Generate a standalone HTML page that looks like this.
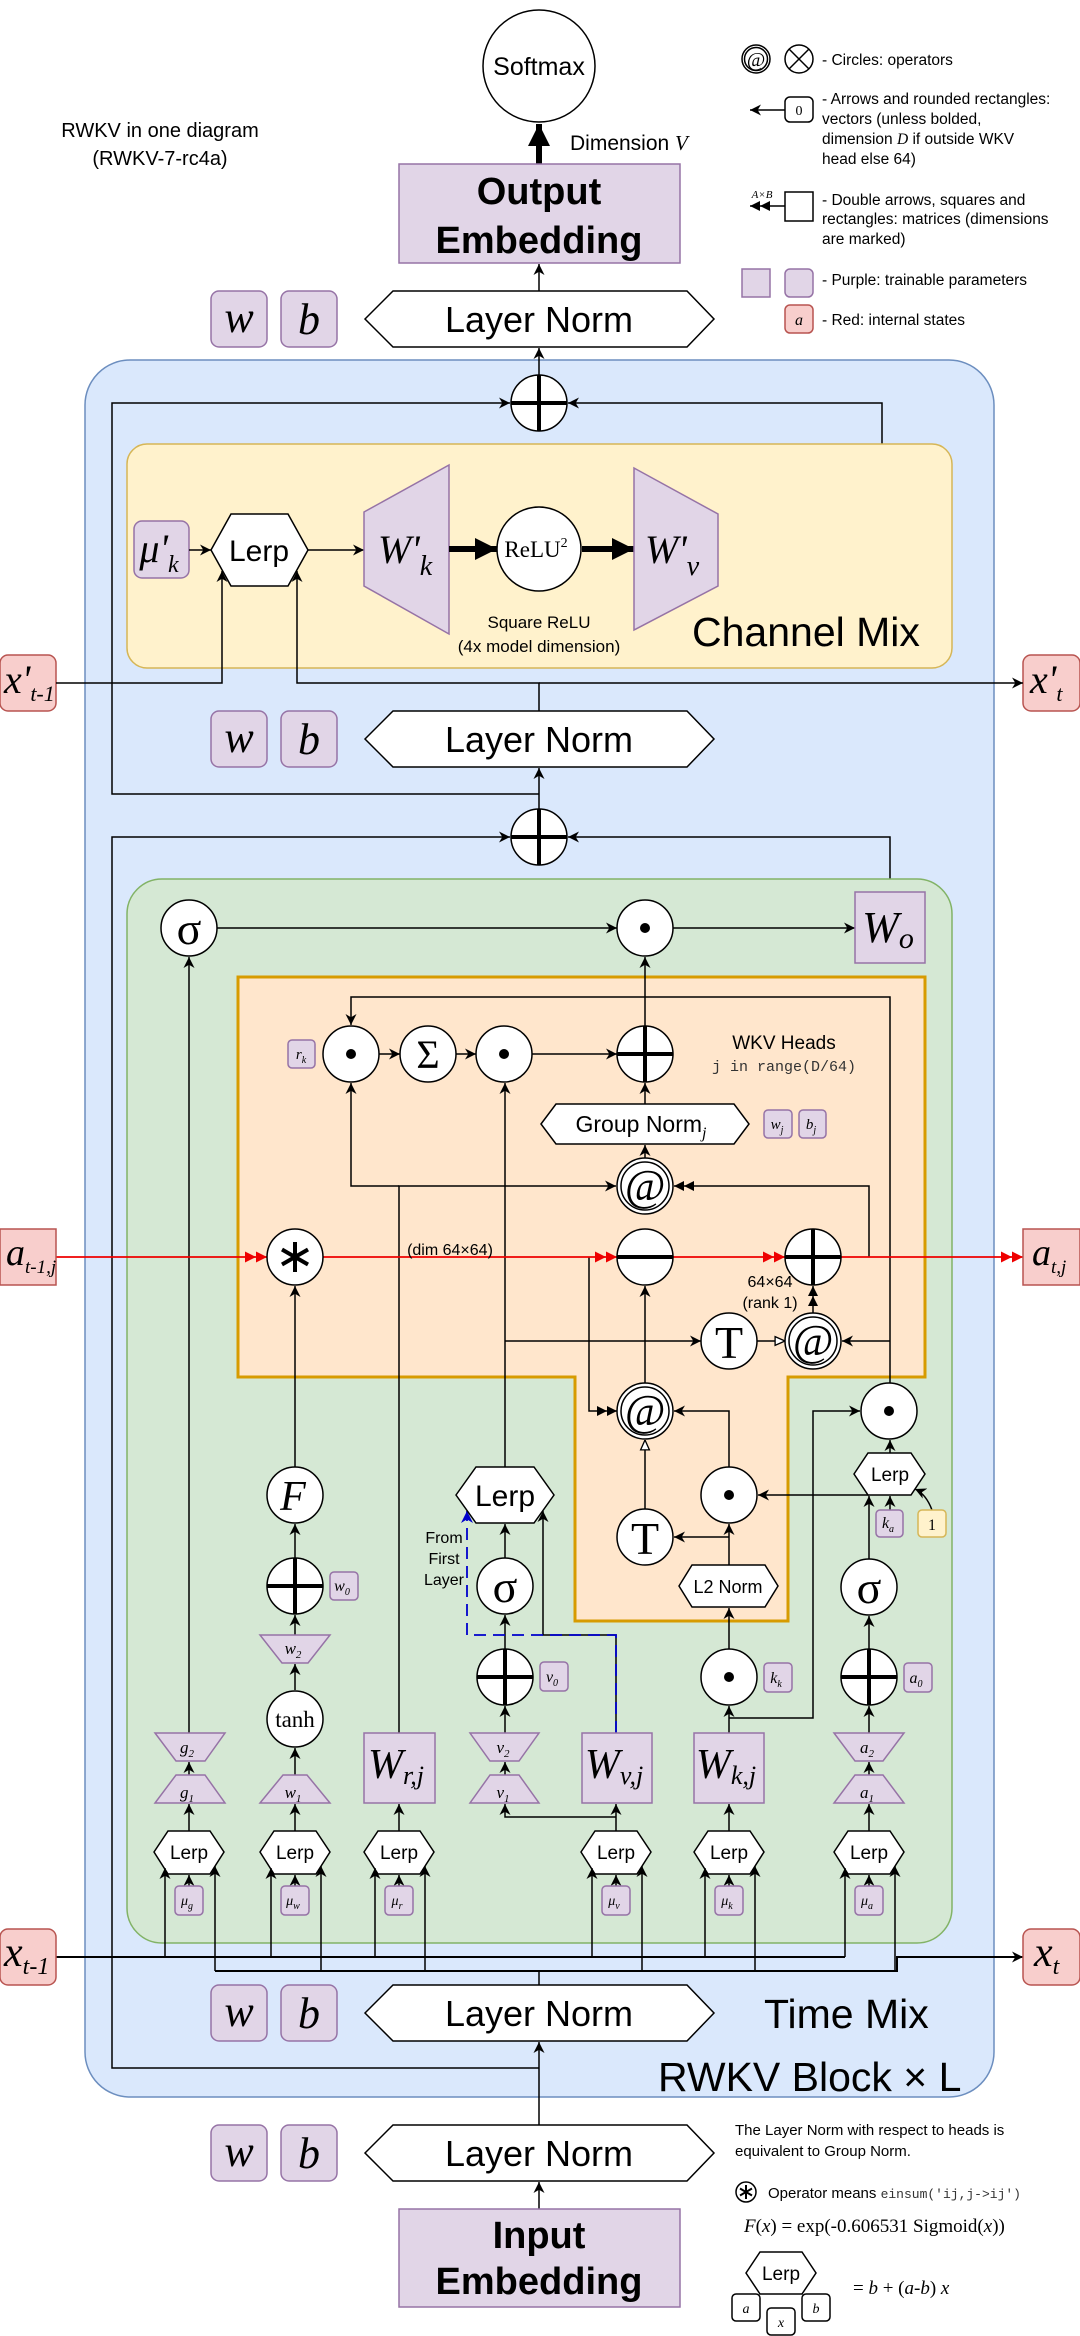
<!DOCTYPE html>
<html><head><meta charset="utf-8"><style>
html,body{margin:0;padding:0;background:#fff}
svg{display:block}
.s{font-family:"Liberation Sans",sans-serif}
.m{font-family:"Liberation Serif",serif;font-style:italic}
.r{font-family:"Liberation Serif",serif}
.c{fill:#fff;stroke:#000;stroke-width:1.5}
.p{fill:#e1d5e7;stroke:#9673a6;stroke-width:1.5}
.rd{fill:#f8cecc;stroke:#b85450;stroke-width:1.5}
.l{fill:none;stroke:#000;stroke-width:1.5}
.x{stroke:#000;stroke-width:4}
</style></head><body>
<svg width="1080" height="2336" viewBox="0 0 1080 2336" xmlns="http://www.w3.org/2000/svg">
<defs>
<marker id="a" viewBox="0 0 10 10" refX="10" refY="5" markerWidth="11" markerHeight="11" markerUnits="userSpaceOnUse" orient="auto"><path d="M0,0L10,5L0,10L3,5z"/></marker>
<marker id="d" viewBox="0 0 20 10" refX="20" refY="5" markerWidth="20" markerHeight="10" markerUnits="userSpaceOnUse" orient="auto"><path d="M0,0L10,5L0,10zM10,0L20,5L10,10z"/></marker>
<marker id="rd" viewBox="0 0 20 10" refX="20" refY="5" markerWidth="22" markerHeight="11" markerUnits="userSpaceOnUse" orient="auto"><path d="M0,0L10,5L0,10zM10,0L20,5L10,10z" fill="#e00"/></marker>
<marker id="h" viewBox="0 0 10 10" refX="10" refY="5" markerWidth="11" markerHeight="11" markerUnits="userSpaceOnUse" orient="auto"><path d="M1,1L10,5L1,9z" fill="#fff" stroke="#000" stroke-width="1.2"/></marker>
<marker id="t" viewBox="0 0 10 10" refX="10" refY="5" markerWidth="22" markerHeight="22" markerUnits="userSpaceOnUse" orient="auto"><path d="M0,0L10,5L0,10z"/></marker>
<marker id="b" viewBox="0 0 10 10" refX="10" refY="5" markerWidth="12" markerHeight="12" markerUnits="userSpaceOnUse" orient="auto"><path d="M0,0L10,5L0,10L3,5z" fill="#00c"/></marker>
</defs>

<!-- Top -->
<circle class="c" cx="539" cy="66" r="56"/>
<text class="s" x="539" y="75" font-size="25" text-anchor="middle">Softmax</text>
<line x1="539" y1="164" x2="539" y2="124" stroke="#000" stroke-width="6" marker-end="url(#t)"/>
<text class="s" x="570" y="150" font-size="21">Dimension <tspan class="m">V</tspan></text>
<rect class="p" x="399" y="164" width="281" height="99"/>
<text class="s" x="539" y="204" font-size="38" font-weight="bold" text-anchor="middle">Output</text>
<text class="s" x="539" y="253" font-size="38" font-weight="bold" text-anchor="middle">Embedding</text>
<text class="s" x="160" y="137" font-size="20" text-anchor="middle">RWKV in one diagram</text>
<text class="s" x="160" y="165" font-size="20" text-anchor="middle">(RWKV-7-rc4a)</text>

<!-- Legend -->
<circle class="c" cx="756" cy="59" r="14"/><circle class="c" cx="756" cy="59" r="11.5"/>
<text class="m" x="756" y="66" font-size="20" text-anchor="middle">@</text>
<circle class="c" cx="799" cy="59" r="14"/>
<line class="l" x1="789" y1="49" x2="809" y2="69"/><line class="l" x1="809" y1="49" x2="789" y2="69"/>
<g class="s" font-size="15.5">
<text x="822" y="65">- Circles: operators</text>
<text x="822" y="104">- Arrows and rounded rectangles:</text>
<text x="822" y="124">vectors (unless bolded,</text>
<text x="822" y="144">dimension <tspan class="m">D</tspan> if outside WKV</text>
<text x="822" y="164">head else 64)</text>
<text x="822" y="205">- Double arrows, squares and</text>
<text x="822" y="224">rectangles: matrices (dimensions</text>
<text x="822" y="244">are marked)</text>
<text x="822" y="285">- Purple: trainable parameters</text>
<text x="822" y="325">- Red: internal states</text>
</g>
<rect x="785" y="97" width="28" height="25" rx="5" fill="#fff" stroke="#000" stroke-width="1.5"/>
<text class="r" x="799" y="115" font-size="14" text-anchor="middle">0</text>
<line class="l" x1="785" y1="110" x2="750" y2="110" marker-end="url(#a)"/>
<text class="m" x="762" y="198" font-size="11" text-anchor="middle">A×B</text>
<rect x="785" y="192" width="28" height="29" fill="#fff" stroke="#000" stroke-width="1.5"/>
<line class="l" x1="785" y1="206" x2="750" y2="206" marker-end="url(#d)"/>
<rect class="p" x="742" y="269" width="28" height="28"/>
<rect class="p" x="785" y="269" width="28" height="28" rx="5"/>
<rect class="rd" x="785" y="305" width="28" height="28" rx="5"/>
<text class="m" x="799" y="325" font-size="16" text-anchor="middle">a</text>

<!-- Top LN -->
<rect class="p" x="211" y="291" width="56" height="56" rx="8"/><text class="m" x="239" y="332" font-size="44" text-anchor="middle">w</text>
<rect class="p" x="281" y="291" width="56" height="56" rx="8"/><text class="m" x="309" y="334" font-size="44" text-anchor="middle">b</text>
<polygon class="c" points="365,319 393,291 687,291 714,319 687,347 393,347"/>
<text class="s" x="539" y="332" font-size="36" text-anchor="middle">Layer Norm</text>
<line class="l" x1="539" y1="291" x2="539" y2="264" marker-end="url(#a)"/>

<!-- Blue block -->
<rect x="85" y="360" width="909" height="1737" rx="45" fill="#dae8fc" stroke="#6c8ebf" stroke-width="1.5"/>
<line class="l" x1="539" y1="375" x2="539" y2="348" marker-end="url(#a)"/>
<path class="l" d="M539,794H112V403H510" marker-end="url(#a)"/>
<path class="l" d="M718,563H882V403H568" marker-end="url(#a)"/>
<circle class="c" cx="539" cy="403" r="28"/>
<line class="x" x1="511" y1="403" x2="567" y2="403"/><line class="x" x1="539" y1="375" x2="539" y2="431"/>

<!-- Channel mix -->
<rect x="127" y="444" width="825" height="224" rx="20" fill="#fff2cc" stroke="#d6b656" stroke-width="1.5"/>
<rect class="p" x="134" y="521" width="55" height="57" rx="8"/>
<text class="m" x="159" y="562" font-size="40" text-anchor="middle">μ'<tspan font-size="24" dy="10">k</tspan></text>
<polygon class="c" points="211,550 231,514 288,514 308,550 288,586 231,586"/>
<text class="s" x="259" y="561" font-size="30" text-anchor="middle">Lerp</text>
<line class="l" x1="189" y1="550" x2="211" y2="550" marker-end="url(#a)"/>
<line class="l" x1="308" y1="550" x2="364" y2="550" marker-end="url(#a)"/>
<polygon class="p" points="364,512 449,465 449,634 364,586"/>
<text class="m" x="405" y="563" font-size="40" text-anchor="middle">W'<tspan font-size="28" dy="12">k</tspan></text>
<line x1="449" y1="549" x2="497" y2="549" stroke="#000" stroke-width="6" marker-end="url(#t)"/>
<circle class="c" cx="539" cy="549" r="42"/>
<text class="r" x="536" y="557" font-size="23" text-anchor="middle">ReLU<tspan font-size="14" dy="-10">2</tspan></text>
<line x1="582" y1="549" x2="634" y2="549" stroke="#000" stroke-width="6" marker-end="url(#t)"/>
<polygon class="p" points="634,468 718,514 718,586 634,630"/>
<text class="m" x="672" y="563" font-size="40" text-anchor="middle">W'<tspan font-size="28" dy="12">v</tspan></text>
<text class="s" x="539" y="628" font-size="17" text-anchor="middle">Square ReLU</text>
<text class="s" x="539" y="652" font-size="17" text-anchor="middle">(4x model dimension)</text>
<text class="s" x="692" y="646" font-size="41">Channel Mix</text>

<rect class="rd" x="0" y="655" width="56" height="56" rx="8"/>
<text class="m" x="4" y="693" font-size="40">x'<tspan font-size="22" dy="8">t-1</tspan></text>
<rect class="rd" x="1023" y="655" width="57" height="56" rx="8"/>
<text class="m" x="1030" y="693" font-size="40">x'<tspan font-size="22" dy="8">t</tspan></text>
<path class="l" d="M56,683H222V571" marker-end="url(#a)"/>
<path class="l" d="M539,711V683H297V571" marker-end="url(#a)"/>
<line class="l" x1="539" y1="683" x2="1023" y2="683" marker-end="url(#a)"/>

<rect class="p" x="211" y="711" width="56" height="56" rx="8"/><text class="m" x="239" y="752" font-size="44" text-anchor="middle">w</text>
<rect class="p" x="281" y="711" width="56" height="56" rx="8"/><text class="m" x="309" y="754" font-size="44" text-anchor="middle">b</text>
<polygon class="c" points="365,739 393,711 687,711 714,739 687,767 393,767"/>
<text class="s" x="539" y="752" font-size="36" text-anchor="middle">Layer Norm</text>
<line class="l" x1="539" y1="809" x2="539" y2="768" marker-end="url(#a)"/>
<path class="l" d="M539,2068H112V837H510" marker-end="url(#a)"/>
<path class="l" d="M890,892V837H568" marker-end="url(#a)"/>
<circle class="c" cx="539" cy="837" r="28"/>
<line class="x" x1="511" y1="837" x2="567" y2="837"/><line class="x" x1="539" y1="809" x2="539" y2="865"/>

<!-- Green -->
<rect x="127" y="879" width="825" height="1064" rx="35" fill="#d5e8d4" stroke="#82b366" stroke-width="1.5"/>
<polygon points="238,977 925,977 925,1377 788,1377 788,1621 575,1621 575,1377 238,1377" fill="#ffe6cc" stroke="#d79b00" stroke-width="3"/>

<!-- lines (drawn before nodes) -->
<g class="l">
<line x1="217" y1="928" x2="617" y2="928" marker-end="url(#a)"/>
<line x1="673" y1="928" x2="855" y2="928" marker-end="url(#a)"/>
<line x1="645" y1="1026" x2="645" y2="957" marker-end="url(#a)"/>
<path d="M890,1383V997H351V1025" marker-end="url(#a)"/>
<line x1="379" y1="1054" x2="400" y2="1054" marker-end="url(#a)"/>
<line x1="456" y1="1054" x2="476" y2="1054" marker-end="url(#a)"/>
<line x1="532" y1="1054" x2="617" y2="1054" marker-end="url(#a)"/>
<line x1="645" y1="1104" x2="645" y2="1083" marker-end="url(#a)"/>
<line x1="645" y1="1158" x2="645" y2="1145" marker-end="url(#a)"/>
<path d="M399,1733V1186H616" marker-end="url(#a)"/>
<path d="M399,1186H351V1083" marker-end="url(#a)"/>
<path d="M869,1257V1186H674" marker-end="url(#d)"/>
<path d="M589,1257V1411H617" marker-end="url(#d)"/>
<line x1="645" y1="1383" x2="645" y2="1286" marker-end="url(#a)"/>
<line x1="505" y1="1467" x2="505" y2="1083" marker-end="url(#a)"/>
<line x1="505" y1="1341" x2="701" y2="1341" marker-end="url(#a)"/>
<line x1="757" y1="1341" x2="785" y2="1341" marker-end="url(#h)"/>
<path d="M890,1341H842" marker-end="url(#a)"/>
<line x1="813" y1="1313" x2="813" y2="1286" marker-end="url(#d)"/>
<path d="M729,1467V1411H674" marker-end="url(#a)"/>
<line x1="645" y1="1509" x2="645" y2="1440" marker-end="url(#h)"/>
<line x1="729" y1="1565" x2="729" y2="1524" marker-end="url(#a)"/>
<path d="M729,1537H674" marker-end="url(#a)"/>
<line x1="729" y1="1649" x2="729" y2="1608" marker-end="url(#a)"/>
<line x1="729" y1="1733" x2="729" y2="1706" marker-end="url(#a)"/>
<path d="M729,1718H813V1411H860" marker-end="url(#a)"/>
<line x1="890" y1="1453" x2="890" y2="1440" marker-end="url(#a)"/>
<line x1="869" y1="1559" x2="869" y2="1496" marker-end="url(#a)"/>
<path d="M869,1495H758" marker-end="url(#a)"/>
<line x1="890" y1="1510" x2="890" y2="1496" marker-end="url(#a)"/>
<path d="M932,1510Q926,1494 915,1489" marker-end="url(#a)"/>
<line x1="869" y1="1649" x2="869" y2="1616" marker-end="url(#a)"/>
<line x1="869" y1="1733" x2="869" y2="1706" marker-end="url(#a)"/>
<line x1="869" y1="1775" x2="869" y2="1762" marker-end="url(#a)"/>
<line x1="869" y1="1831" x2="869" y2="1804" marker-end="url(#a)"/>
<line x1="505" y1="1558" x2="505" y2="1524" marker-end="url(#a)"/>
<line x1="505" y1="1649" x2="505" y2="1615" marker-end="url(#a)"/>
<line x1="505" y1="1733" x2="505" y2="1706" marker-end="url(#a)"/>
<line x1="505" y1="1775" x2="505" y2="1762" marker-end="url(#a)"/>
<line x1="616" y1="1831" x2="616" y2="1804" marker-end="url(#a)"/>
<path d="M616,1817H505V1804" marker-end="url(#a)"/>
<path d="M616,1733V1635H543V1511" marker-end="url(#a)"/>
<line x1="189" y1="1733" x2="189" y2="957" marker-end="url(#a)"/>
<line x1="189" y1="1775" x2="189" y2="1762" marker-end="url(#a)"/>
<line x1="189" y1="1831" x2="189" y2="1804" marker-end="url(#a)"/>
<line x1="295" y1="1467" x2="295" y2="1286" marker-end="url(#a)"/>
<line x1="295" y1="1558" x2="295" y2="1524" marker-end="url(#a)"/>
<line x1="295" y1="1635" x2="295" y2="1615" marker-end="url(#a)"/>
<line x1="295" y1="1690" x2="295" y2="1664" marker-end="url(#a)"/>
<line x1="295" y1="1775" x2="295" y2="1748" marker-end="url(#a)"/>
<line x1="295" y1="1831" x2="295" y2="1804" marker-end="url(#a)"/>
<line x1="399" y1="1831" x2="399" y2="1804" marker-end="url(#a)"/>
<line x1="729" y1="1831" x2="729" y2="1804" marker-end="url(#a)"/>
</g>
<path d="M616,1733V1635H467V1511" fill="none" stroke="#00c" stroke-width="1.8" stroke-dasharray="12 7" marker-end="url(#b)"/>

<!-- red state line -->
<g fill="none" stroke="#e00" stroke-width="1.8">
<line x1="56" y1="1257" x2="267" y2="1257" marker-end="url(#rd)"/>
<line x1="323" y1="1257" x2="617" y2="1257" marker-end="url(#rd)"/>
<line x1="673" y1="1257" x2="785" y2="1257" marker-end="url(#rd)"/>
<line x1="841" y1="1257" x2="1023" y2="1257" marker-end="url(#rd)"/>
</g>
<rect class="rd" x="0" y="1229" width="56" height="56"/>
<text class="m" x="6" y="1265" font-size="38">a<tspan font-size="19" dy="8">t-1,j</tspan></text>
<rect class="rd" x="1023" y="1229" width="57" height="56"/>
<text class="m" x="1032" y="1265" font-size="38">a<tspan font-size="19" dy="8">t,j</tspan></text>
<text class="s" x="450" y="1255" font-size="16" text-anchor="middle">(dim 64×64)</text>
<text class="s" x="770" y="1287" font-size="16" text-anchor="middle">64×64</text>
<text class="s" x="770" y="1308" font-size="16" text-anchor="middle">(rank 1)</text>

<!-- nodes -->
<circle class="c" cx="189" cy="928" r="28"/><text class="r" x="189" y="944" font-size="46" text-anchor="middle">σ</text>
<circle class="c" cx="645" cy="928" r="28"/><circle cx="645" cy="928" r="5"/>
<rect class="p" x="855" y="892" width="70" height="71"/>
<text class="m" x="888" y="942" font-size="44" text-anchor="middle">W<tspan font-size="30" dy="6">o</tspan></text>

<rect class="p" x="288" y="1040" width="27" height="28" rx="4"/><text class="m" x="301" y="1059" font-size="15" text-anchor="middle">r<tspan font-size="10" dy="4">k</tspan></text>
<circle class="c" cx="351" cy="1054" r="28"/><circle cx="351" cy="1054" r="5"/>
<circle class="c" cx="428" cy="1054" r="28"/><text class="r" x="428" y="1068" font-size="40" text-anchor="middle">Σ</text>
<circle class="c" cx="504" cy="1054" r="28"/><circle cx="504" cy="1054" r="5"/>
<circle class="c" cx="645" cy="1054" r="28"/>
<line class="x" x1="617" y1="1054" x2="673" y2="1054"/><line class="x" x1="645" y1="1026" x2="645" y2="1082"/>
<text class="s" x="784" y="1049" font-size="19" text-anchor="middle">WKV Heads</text>
<text x="784" y="1071" font-size="15" text-anchor="middle" font-family="Liberation Mono,monospace" fill="#333">j in range(D/64)</text>
<polygon class="c" points="541,1124 556,1104 734,1104 749,1124 734,1144 556,1144"/>
<text class="s" x="641" y="1132" font-size="23" text-anchor="middle">Group Norm<tspan class="m" font-size="16" dy="6">j</tspan></text>
<rect class="p" x="764" y="1110" width="28" height="28" rx="4"/><text class="m" x="777" y="1129" font-size="15" text-anchor="middle">w<tspan font-size="10" dy="4">j</tspan></text>
<rect class="p" x="799" y="1110" width="27" height="28" rx="4"/><text class="m" x="811" y="1129" font-size="15" text-anchor="middle">b<tspan font-size="10" dy="4">j</tspan></text>

<circle class="c" cx="645" cy="1186" r="28"/><circle class="c" cx="645" cy="1186" r="24"/>
<text class="m" x="645" y="1200" font-size="44" text-anchor="middle">@</text>

<circle class="c" cx="295" cy="1257" r="28"/>
<g stroke="#000" stroke-width="4"><line x1="295" y1="1242" x2="295" y2="1272"/><line x1="282" y1="1249.5" x2="308" y2="1264.5"/><line x1="282" y1="1264.5" x2="308" y2="1249.5"/></g>
<circle class="c" cx="645" cy="1257" r="28"/><line class="x" x1="617" y1="1257" x2="673" y2="1257"/>
<circle class="c" cx="813" cy="1257" r="28"/>
<line class="x" x1="785" y1="1257" x2="841" y2="1257"/><line class="x" x1="813" y1="1229" x2="813" y2="1285"/>

<circle class="c" cx="729" cy="1341" r="28"/><text class="r" x="729" y="1358" font-size="46" text-anchor="middle">T</text>
<circle class="c" cx="813" cy="1341" r="28"/><circle class="c" cx="813" cy="1341" r="24"/>
<text class="m" x="813" y="1355" font-size="44" text-anchor="middle">@</text>
<circle class="c" cx="645" cy="1411" r="28"/><circle class="c" cx="645" cy="1411" r="24"/>
<text class="m" x="645" y="1425" font-size="44" text-anchor="middle">@</text>
<circle class="c" cx="729" cy="1495" r="28"/><circle cx="729" cy="1495" r="5"/>
<circle class="c" cx="645" cy="1537" r="28"/><text class="r" x="645" y="1554" font-size="46" text-anchor="middle">T</text>
<polygon class="c" points="679,1586 692,1565 765,1565 778,1586 765,1607 692,1607"/>
<text class="s" x="728" y="1593" font-size="18" text-anchor="middle">L2 Norm</text>

<circle class="c" cx="889" cy="1411" r="28"/><circle cx="889" cy="1411" r="5"/>
<polygon class="c" points="854,1474 868,1453 911,1453 925,1474 911,1495 868,1495"/>
<text class="s" x="890" y="1481" font-size="19" text-anchor="middle">Lerp</text>
<rect class="p" x="876" y="1510" width="27" height="27" rx="4"/><text class="m" x="888" y="1528" font-size="16" text-anchor="middle">k<tspan font-size="10" dy="4">a</tspan></text>
<rect x="918" y="1510" width="28" height="27" rx="4" fill="#fff2cc" stroke="#d6b656" stroke-width="1.5"/>
<text class="r" x="932" y="1530" font-size="16" text-anchor="middle">1</text>
<circle class="c" cx="869" cy="1587" r="28"/><text class="r" x="869" y="1603" font-size="46" text-anchor="middle">σ</text>
<circle class="c" cx="869" cy="1677" r="28"/>
<line class="x" x1="841" y1="1677" x2="897" y2="1677"/><line class="x" x1="869" y1="1649" x2="869" y2="1705"/>
<rect class="p" x="904" y="1663" width="28" height="29" rx="4"/><text class="m" x="916" y="1683" font-size="16" text-anchor="middle">a<tspan font-size="10" dy="4">0</tspan></text>
<circle class="c" cx="729" cy="1677" r="28"/><circle cx="729" cy="1677" r="5"/>
<rect class="p" x="764" y="1663" width="28" height="29" rx="4"/><text class="m" x="776" y="1683" font-size="16" text-anchor="middle">k<tspan font-size="10" dy="4">k</tspan></text>

<polygon class="c" points="456,1495 476,1467 534,1467 554,1495 534,1523 476,1523"/>
<text class="s" x="505" y="1506" font-size="30" text-anchor="middle">Lerp</text>
<text class="s" x="444" y="1543" font-size="16" text-anchor="middle">From</text>
<text class="s" x="444" y="1564" font-size="16" text-anchor="middle">First</text>
<text class="s" x="444" y="1585" font-size="16" text-anchor="middle">Layer</text>
<circle class="c" cx="505" cy="1586" r="28"/><text class="r" x="505" y="1602" font-size="46" text-anchor="middle">σ</text>
<circle class="c" cx="505" cy="1677" r="28"/>
<line class="x" x1="477" y1="1677" x2="533" y2="1677"/><line class="x" x1="505" y1="1649" x2="505" y2="1705"/>
<rect class="p" x="540" y="1662" width="28" height="29" rx="4"/><text class="m" x="552" y="1682" font-size="16" text-anchor="middle">v<tspan font-size="10" dy="4">0</tspan></text>

<circle class="c" cx="295" cy="1495" r="28"/><text class="m" x="293" y="1510" font-size="42" text-anchor="middle">F</text>
<circle class="c" cx="295" cy="1586" r="28"/>
<line class="x" x1="267" y1="1586" x2="323" y2="1586"/><line class="x" x1="295" y1="1558" x2="295" y2="1614"/>
<rect class="p" x="330" y="1572" width="28" height="28" rx="4"/><text class="m" x="342" y="1591" font-size="16" text-anchor="middle">w<tspan font-size="10" dy="4">0</tspan></text>
<polygon class="p" points="260,1635 330,1635 308,1663 282,1663"/><text class="m" x="293" y="1654" font-size="17" text-anchor="middle">w<tspan font-size="11" dy="4">2</tspan></text>
<circle class="c" cx="295" cy="1719" r="28"/><text class="r" x="295" y="1727" font-size="23" text-anchor="middle">tanh</text>
<polygon class="p" points="283,1775 307,1775 330,1803 260,1803"/><text class="m" x="293" y="1798" font-size="17" text-anchor="middle">w<tspan font-size="11" dy="4">1</tspan></text>

<polygon class="p" points="155,1733 225,1733 205,1761 176,1761"/><text class="m" x="187" y="1753" font-size="17" text-anchor="middle">g<tspan font-size="11" dy="4">2</tspan></text>
<polygon class="p" points="176,1775 205,1775 225,1803 155,1803"/><text class="m" x="187" y="1798" font-size="17" text-anchor="middle">g<tspan font-size="11" dy="4">1</tspan></text>
<polygon class="p" points="470,1733 539,1733 519,1761 490,1761"/><text class="m" x="503" y="1753" font-size="17" text-anchor="middle">v<tspan font-size="11" dy="4">2</tspan></text>
<polygon class="p" points="490,1775 519,1775 539,1803 470,1803"/><text class="m" x="503" y="1798" font-size="17" text-anchor="middle">v<tspan font-size="11" dy="4">1</tspan></text>
<polygon class="p" points="834,1733 904,1733 883,1761 855,1761"/><text class="m" x="867" y="1753" font-size="17" text-anchor="middle">a<tspan font-size="11" dy="4">2</tspan></text>
<polygon class="p" points="855,1775 883,1775 904,1803 834,1803"/><text class="m" x="867" y="1798" font-size="17" text-anchor="middle">a<tspan font-size="11" dy="4">1</tspan></text>

<rect class="p" x="364" y="1733" width="71" height="70"/><text class="m" x="396" y="1778" font-size="42" text-anchor="middle">W<tspan font-size="26" dy="6">r,j</tspan></text>
<rect class="p" x="582" y="1733" width="70" height="70"/><text class="m" x="614" y="1778" font-size="42" text-anchor="middle">W<tspan font-size="26" dy="6">v,j</tspan></text>
<rect class="p" x="694" y="1733" width="70" height="70"/><text class="m" x="726" y="1778" font-size="42" text-anchor="middle">W<tspan font-size="26" dy="6">k,j</tspan></text>

<!-- Lerp row -->
<g>
<polygon class="c" points="154,1852 168,1831 210,1831 224,1852 210,1874 168,1874"/><text class="s" x="189" y="1859" font-size="19" text-anchor="middle">Lerp</text>
<polygon class="c" points="260,1852 274,1831 316,1831 330,1852 316,1874 274,1874"/><text class="s" x="295" y="1859" font-size="19" text-anchor="middle">Lerp</text>
<polygon class="c" points="364,1852 378,1831 420,1831 434,1852 420,1874 378,1874"/><text class="s" x="399" y="1859" font-size="19" text-anchor="middle">Lerp</text>
<polygon class="c" points="581,1852 595,1831 637,1831 651,1852 637,1874 595,1874"/><text class="s" x="616" y="1859" font-size="19" text-anchor="middle">Lerp</text>
<polygon class="c" points="694,1852 708,1831 750,1831 764,1852 750,1874 708,1874"/><text class="s" x="729" y="1859" font-size="19" text-anchor="middle">Lerp</text>
<polygon class="c" points="834,1852 848,1831 890,1831 904,1852 890,1874 848,1874"/><text class="s" x="869" y="1859" font-size="19" text-anchor="middle">Lerp</text>
</g>
<g class="l">
<line x1="189" y1="1886" x2="189" y2="1875" marker-end="url(#a)"/>
<line x1="295" y1="1886" x2="295" y2="1875" marker-end="url(#a)"/>
<line x1="399" y1="1886" x2="399" y2="1875" marker-end="url(#a)"/>
<line x1="616" y1="1886" x2="616" y2="1875" marker-end="url(#a)"/>
<line x1="729" y1="1886" x2="729" y2="1875" marker-end="url(#a)"/>
<line x1="869" y1="1886" x2="869" y2="1875" marker-end="url(#a)"/>
<line x1="165" y1="1957" x2="165" y2="1868" marker-end="url(#a)"/>
<line x1="271" y1="1957" x2="271" y2="1868" marker-end="url(#a)"/>
<line x1="375" y1="1957" x2="375" y2="1868" marker-end="url(#a)"/>
<line x1="592" y1="1957" x2="592" y2="1868" marker-end="url(#a)"/>
<line x1="705" y1="1957" x2="705" y2="1868" marker-end="url(#a)"/>
<line x1="845" y1="1957" x2="845" y2="1868" marker-end="url(#a)"/>
<line x1="215" y1="1971" x2="215" y2="1866" marker-end="url(#a)"/>
<line x1="321" y1="1971" x2="321" y2="1866" marker-end="url(#a)"/>
<line x1="425" y1="1971" x2="425" y2="1866" marker-end="url(#a)"/>
<line x1="642" y1="1971" x2="642" y2="1866" marker-end="url(#a)"/>
<line x1="755" y1="1971" x2="755" y2="1866" marker-end="url(#a)"/>
<line x1="895" y1="1971" x2="895" y2="1866" marker-end="url(#a)"/>
<line x1="56" y1="1957" x2="845" y2="1957" stroke-width="2"/>
<path d="M215,1971H897V1957H1023" stroke-width="2" marker-end="url(#a)"/>
<line x1="539" y1="1985" x2="539" y2="1971"/>
</g>
<g>
<rect class="p" x="175" y="1886" width="28" height="29" rx="4"/><text class="m" x="187" y="1905" font-size="14" text-anchor="middle">μ<tspan font-size="10" dy="4">g</tspan></text>
<rect class="p" x="281" y="1886" width="28" height="29" rx="4"/><text class="m" x="293" y="1905" font-size="14" text-anchor="middle">μ<tspan font-size="10" dy="4">w</tspan></text>
<rect class="p" x="385" y="1886" width="28" height="29" rx="4"/><text class="m" x="397" y="1905" font-size="14" text-anchor="middle">μ<tspan font-size="10" dy="4">r</tspan></text>
<rect class="p" x="602" y="1886" width="28" height="29" rx="4"/><text class="m" x="614" y="1905" font-size="14" text-anchor="middle">μ<tspan font-size="10" dy="4">v</tspan></text>
<rect class="p" x="715" y="1886" width="28" height="29" rx="4"/><text class="m" x="727" y="1905" font-size="14" text-anchor="middle">μ<tspan font-size="10" dy="4">k</tspan></text>
<rect class="p" x="855" y="1886" width="28" height="29" rx="4"/><text class="m" x="867" y="1905" font-size="14" text-anchor="middle">μ<tspan font-size="10" dy="4">a</tspan></text>
</g>

<rect class="rd" x="0" y="1929" width="56" height="56" rx="8"/>
<text class="m" x="4" y="1966" font-size="42">x<tspan font-size="24" dy="8">t-1</tspan></text>
<rect class="rd" x="1023" y="1929" width="57" height="56" rx="8"/>
<text class="m" x="1034" y="1966" font-size="42">x<tspan font-size="24" dy="8">t</tspan></text>

<!-- Time mix LN -->
<rect class="p" x="211" y="1985" width="56" height="56" rx="8"/><text class="m" x="239" y="2026" font-size="44" text-anchor="middle">w</text>
<rect class="p" x="281" y="1985" width="56" height="56" rx="8"/><text class="m" x="309" y="2028" font-size="44" text-anchor="middle">b</text>
<polygon class="c" points="365,2013 393,1985 687,1985 714,2013 687,2041 393,2041"/>
<text class="s" x="539" y="2026" font-size="36" text-anchor="middle">Layer Norm</text>
<text class="s" x="764" y="2028" font-size="41">Time Mix</text>
<text class="s" x="658" y="2091" font-size="41">RWKV Block × L</text>
<line class="l" x1="539" y1="2125" x2="539" y2="2042" marker-end="url(#a)"/>

<!-- Bottom -->
<rect class="p" x="211" y="2125" width="56" height="56" rx="8"/><text class="m" x="239" y="2166" font-size="44" text-anchor="middle">w</text>
<rect class="p" x="281" y="2125" width="56" height="56" rx="8"/><text class="m" x="309" y="2168" font-size="44" text-anchor="middle">b</text>
<polygon class="c" points="365,2153 393,2125 687,2125 714,2153 687,2181 393,2181"/>
<text class="s" x="539" y="2166" font-size="36" text-anchor="middle">Layer Norm</text>
<line class="l" x1="539" y1="2209" x2="539" y2="2182" marker-end="url(#a)"/>
<rect class="p" x="399" y="2209" width="281" height="98"/>
<text class="s" x="539" y="2248" font-size="38" font-weight="bold" text-anchor="middle">Input</text>
<text class="s" x="539" y="2294" font-size="38" font-weight="bold" text-anchor="middle">Embedding</text>

<text class="s" x="735" y="2135" font-size="15">The Layer Norm with respect to heads is</text>
<text class="s" x="735" y="2156" font-size="15">equivalent to Group Norm.</text>
<circle class="c" cx="746" cy="2192" r="10"/>
<g stroke="#000" stroke-width="2"><line x1="746" y1="2185" x2="746" y2="2199"/><line x1="740" y1="2188.5" x2="752" y2="2195.5"/><line x1="740" y1="2195.5" x2="752" y2="2188.5"/></g>
<text class="s" x="768" y="2198" font-size="15">Operator means <tspan font-family="Liberation Mono,monospace" font-size="13" fill="#333">einsum('ij,j-&gt;ij')</tspan></text>
<text class="r" x="744" y="2232" font-size="19"><tspan class="m">F</tspan>(<tspan class="m">x</tspan>) = exp(-0.606531 Sigmoid(<tspan class="m">x</tspan>))</text>
<polygon class="c" points="746,2273 760,2252 802,2252 816,2273 802,2294 760,2294"/>
<text class="s" x="781" y="2280" font-size="19" text-anchor="middle">Lerp</text>
<rect x="732" y="2294" width="28" height="27" rx="4" fill="#fff" stroke="#000" stroke-width="1.5"/><text class="m" x="746" y="2313" font-size="14" text-anchor="middle">a</text>
<rect x="767" y="2308" width="28" height="27" rx="4" fill="#fff" stroke="#000" stroke-width="1.5"/><text class="m" x="781" y="2327" font-size="14" text-anchor="middle">x</text>
<rect x="802" y="2294" width="28" height="27" rx="4" fill="#fff" stroke="#000" stroke-width="1.5"/><text class="m" x="816" y="2313" font-size="14" text-anchor="middle">b</text>
<text class="r" x="853" y="2294" font-size="19">= <tspan class="m">b</tspan> + (<tspan class="m">a</tspan>-<tspan class="m">b</tspan>) <tspan class="m">x</tspan></text>
</svg>
</body></html>
